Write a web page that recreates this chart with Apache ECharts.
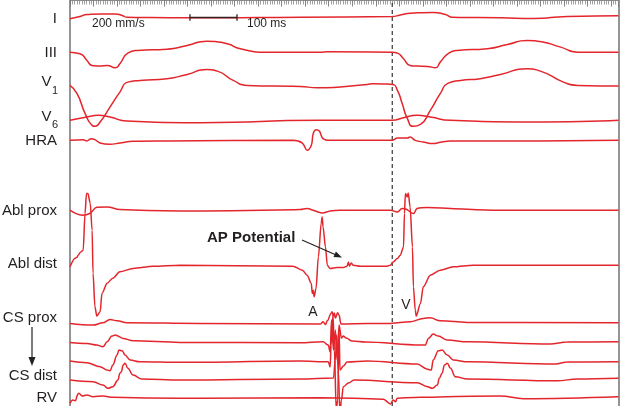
<!DOCTYPE html>
<html><head><meta charset="utf-8">
<script src="https://cdn.jsdelivr.net/npm/echarts@6/dist/echarts.min.js"></script>
<style>html,body{margin:0;padding:0;background:#fff}#c{width:621px;height:406px}</style>
</head><body><div id="c"></div>
<script>
// time in ms, amplitude in arbitrary units (positive = up)
const leadI = [[0,-1.3],[21,1],[36,3],[64,3.5],[96,3.5],[111,2],[121,0.3],[170,0],[277,-0.3],[489,0.3],[685,1],[702,2.5],[724,4.3],[772,5],[798,3],[813,0.3],[915,-0.3],[985,-1],[1057,1],[1166,1.7]];
const leadIII = [[0,0.3],[21,-1.3],[36,-8],[47,-13],[64,-13.7],[79,-13],[96,-15.3],[106,-11.3],[123,-0.7],[143,2],[206,3.3],[249,7],[291,11.3],[334,8.7],[362,3.7],[419,0.3],[532,0.3],[547,0.7],[685,0.3],[696,-0.7],[709,-6.3],[723,-13],[738,-13.7],[760,-14],[777,-15.3],[787,-9.7],[804,-1.3],[823,2],[887,3.7],[930,8],[972,12],[994,11.3],[1043,5.3],[1079,0.3],[1166,0.3]];
const leadV1 = [[0,1],[15,-7.3],[32,-27],[47,-39],[53,-40],[64,-35.7],[85,-20.7],[106,-5.7],[123,4.3],[149,6],[206,7.7],[249,12],[291,17],[313,15.3],[347,6],[377,1],[489,0],[526,-1.3],[632,2],[643,2.7],[685,2],[696,-4],[706,-17],[717,-32],[730,-40],[745,-38],[766,-24],[787,-7.3],[804,3.3],[830,6],[872,7.7],[915,12],[972,17.7],[1000,15.3],[1049,4.3],[1079,1],[1166,0.3]];
const leadV6 = [[0,0],[36,3.3],[60,5],[85,3.3],[121,-0.7],[277,-2.3],[532,0],[685,0],[709,2.7],[738,5],[766,3.3],[809,0],[985,-1.7],[1166,0]];
const hra = [[0,0],[28,0.7],[36,-0.7],[45,1.7],[53,0.7],[64,-2.7],[85,-4],[106,-2.7],[134,-1],[206,-0.7],[474,0],[494,-2.7],[504,-10],[513,-5],[517,6.7],[523,10.7],[530,9.3],[538,1.7],[553,0],[685,0],[696,2.3],[717,2.3],[723,3.3],[734,0],[751,-1.7],[772,-3.3],[787,-2],[809,-0.7],[915,-0.7],[1166,0]];
const ablProx = [[0,0],[26,-5],[43,-3],[57,3],[79,3.3],[106,0.7],[234,-0.7],[489,0.7],[504,1.7],[517,0],[536,-2.7],[553,-0.7],[574,0],[681,0],[696,-1.7],[706,1.7],[715,1],[730,-3.3],[738,1.7],[760,2.7],[809,1.7],[915,0],[1166,0]];
const ablDist = [[0,-1.7],[11,7],[15,8],[17,10],[23,13.3],[28,15],[32,52],[35,71.7],[38,71.7],[43,62],[47,35],[49,-8],[53,-41.7],[57,-51],[64,-46.7],[68,-28],[79,-18],[91,-13],[106,-6.7],[134,-3.3],[177,-1],[234,0],[474,-1],[494,-5],[504,-10],[513,-18.3],[515,-28.3],[517,-25],[519,-31.7],[523,-23.3],[528,8.3],[534,41.7],[536,48.3],[538,38.3],[543,18.3],[547,0],[553,-3.3],[568,-2.3],[581,-2.3],[589,-1],[592,3.3],[594,-1],[598,2.3],[602,0],[617,-1],[674,-1],[681,0],[687,3.3],[696,6.7],[702,10],[709,18.3],[711,51.7],[713,71.7],[717,68.3],[719,72.3],[723,58.3],[728,18.3],[730,-21.7],[734,-45],[736,-51],[745,-38.3],[751,-21.7],[766,-10],[787,-5],[815,-1.7],[857,0],[1166,0]];
const csProx = [[0,-0.3],[49,-2],[70,0.3],[85,3.7],[100,2.3],[121,0.3],[277,-0.3],[532,-1],[538,1.3],[543,-1.5],[547,2.3],[555,9.7],[557,11.3],[560,7],[562,10],[564,5],[569,10.3],[572,8],[576,-1],[632,-0.3],[681,-0.3],[723,1.3],[751,4.7],[766,5.3],[787,2.3],[845,0.7],[1166,0.3]];
const cs2 = [[0,-0.3],[36,-1.3],[57,-3],[70,-4.7],[79,0.3],[89,6],[96,7],[113,3.7],[134,1.3],[234,-0.3],[489,-0.7],[538,0.3],[549,-3],[553,-10],[556,22],[560,-8],[564,12],[568,-18],[572,17],[577,4],[581,6],[587,4],[600,1],[628,0],[745,-3],[755,-3],[762,3.7],[772,8],[783,6],[802,2],[845,0.3],[1021,-2],[1057,0],[1166,0.3]];
const cs3 = [[0,0],[36,-1.7],[64,-5.7],[79,-9],[85,-9.7],[91,-4],[100,6],[104,11],[111,10.3],[117,6],[128,1],[149,-0.7],[234,-1.3],[489,0],[549,-0.7],[553,-6],[555,16],[559,46],[562,11],[566,-49],[569,-39],[572,31],[574,-9],[581,-5],[589,-1],[632,0],[738,-3],[760,-8.3],[768,-9],[772,1],[783,10.3],[791,11],[802,6],[815,1],[845,-0.7],[1032,-3],[1057,-1],[1166,-0.7]];
const csDist = [[0,-1],[49,-2.7],[70,-6],[81,-9.3],[91,-7.7],[102,-1],[106,5.7],[109,7],[113,14],[117,15.7],[123,10.7],[134,4],[153,0],[234,-1],[489,0],[560,1],[564,19],[567,44],[570,9],[574,-33],[577,-21],[581,-7.7],[592,-4],[604,-1],[738,-3.7],[760,-7.7],[770,-9.3],[781,-6],[785,0.7],[791,5.7],[796,14],[802,15.7],[809,10.7],[819,2.3],[845,0],[1036,-1.7],[1079,0],[1166,0.7]];
const rv = [[0,-6.3],[6,-3],[11,-3.7],[15,1],[19,3.7],[26,1],[36,2],[49,0.3],[70,1],[91,-0.3],[234,-1.3],[277,-1.3],[532,-0.7],[666,-2.3],[674,-4.7],[681,-7],[687,-3],[692,-4.7],[696,-1.3],[745,-0.3],[915,1],[964,-1.7],[1166,0.3]];

const channelData = [leadI, leadIII, leadV1, leadV6, hra, ablProx, ablDist, csProx, cs2, cs3, csDist, rv];
const channelNames = ['I','III','V1','V6','HRA','Abl prox','Abl dist','CS prox','CS 2','CS 3','CS dist','RV'];
const scaleBar = [[255,3.3],[255,-3.3],[255,0],[355,0],[355,3.3],[355,-3.3]];
const markerTime = 685;
const timeMax = 1166;

// layout (pixel rows of each channel baseline) and smoothing per channel
const H = 406;
const rowCenter = [17,52,86,120,140,210,265,323,342,361,379,397];
const rowSmooth = [0.6,0.6,0.6,0.6,0.4,0.4,0.3,0.4,0.35,0.35,0.4,0.4];
const rowMonotone = [null,null,null,null,null,null,'x','x','x','x','x',null];

const RED = '#e3262c';
const TXT = '#231f20';
const FONT = '"Liberation Sans", Arial, Helvetica, sans-serif';

const chart = echarts.init(document.getElementById('c'), null, {renderer:'canvas'});

const yAxes = [
  {gridIndex:0,type:'value',min:0,max:1,axisLine:{show:true,onZero:false,lineStyle:{color:'#7a7a7a',width:1.6}},axisTick:{show:false},axisLabel:{show:false},splitLine:{show:false}},
  {gridIndex:0,type:'value',position:'right',min:0,max:1,axisLine:{show:true,onZero:false,lineStyle:{color:'#7a7a7a',width:1.6}},axisTick:{show:false},axisLabel:{show:false},splitLine:{show:false}}
];
rowCenter.forEach(c => {
  yAxes.push({gridIndex:0,type:'value',show:false,min:-(H-c),max:c});
});

const series = [
  {type:'line',xAxisIndex:0,yAxisIndex:0,data:[[markerTime,0],[markerTime,1]],symbol:'none',
   lineStyle:{color:'#222',width:1.1,type:[4,3]},silent:true,animation:false,z:1}
];
channelData.forEach((d,i) => {
  const s = {name:channelNames[i],type:'line',xAxisIndex:0,yAxisIndex:i+2,data:d,symbol:'none',showSymbol:false,
    smooth:rowSmooth[i],clip:false,lineStyle:{color:RED,width:1.5},animation:false,z:3};
  if (rowMonotone[i]) s.smoothMonotone = rowMonotone[i];
  series.push(s);
});
series.push({type:'line',xAxisIndex:0,yAxisIndex:2,data:scaleBar,symbol:'none',clip:false,
  lineStyle:{color:'#3a2020',width:1.3},animation:false,z:4});

function txt(text,x,y,size,align,bold){
  return {type:'text',x:x,y:y,z:10,style:{text:text,fill:TXT,font:(bold?'bold ':'')+size+'px '+FONT,
    textAlign:align||'right',textVerticalAlign:'middle',align:align||'right',verticalAlign:'middle'}};
}

const graphic = [
  txt('I',57,19,15),
  txt('III',57,52.5,15),
  txt('V',51.5,81.5,15),
  txt('1',52,90.5,11,'left'),
  txt('V',51.5,116.5,15),
  txt('6',52,125,11,'left'),
  txt('HRA',57,141,15),
  txt('Abl prox',57,211,15),
  txt('Abl dist',57,264,15),
  txt('CS prox',57,317.5,15),
  txt('CS dist',57,376,15),
  txt('RV',57,397.5,15),
  txt('200 mm/s',92,24,12,'left'),
  txt('100 ms',247,24,12,'left'),
  txt('AP Potential',207,237.5,15,'left',true),
  txt('A',313,312,14,'center'),
  txt('V',406,305.5,14,'center'),
  {type:'line',z:10,shape:{x1:302,y1:240,x2:335,y2:254.5},style:{stroke:'#222',lineWidth:1.2}},
  {type:'polygon',z:10,shape:{points:[[342,257.5],[333.5,257.1],[335.9,251.5]]},style:{fill:'#222'}},
  {type:'line',z:10,shape:{x1:32,y1:327,x2:32,y2:358},style:{stroke:'#222',lineWidth:1.2}},
  {type:'polygon',z:10,shape:{points:[[32,366],[28.5,357],[35.5,357]]},style:{fill:'#222'}}
];

chart.setOption({
  animation:false,
  backgroundColor:'#fff',
  grid:[{left:70,right:2.5,top:0.5,bottom:0,containLabel:false}],
  xAxis:[{gridIndex:0,type:'value',min:0,max:timeMax,position:'top',interval:50,
    axisLine:{show:true,onZero:false,lineStyle:{color:'#8a8a8a',width:1}},
    axisTick:{show:true,inside:true,length:6,lineStyle:{color:'#777',width:0.9}},
    minorTick:{show:true,splitNumber:10,length:4,lineStyle:{color:'#888',width:0.8}},
    axisLabel:{show:false},splitLine:{show:false}}],
  yAxis:yAxes,
  series:series,
  graphic:graphic
});
</script></body></html>
